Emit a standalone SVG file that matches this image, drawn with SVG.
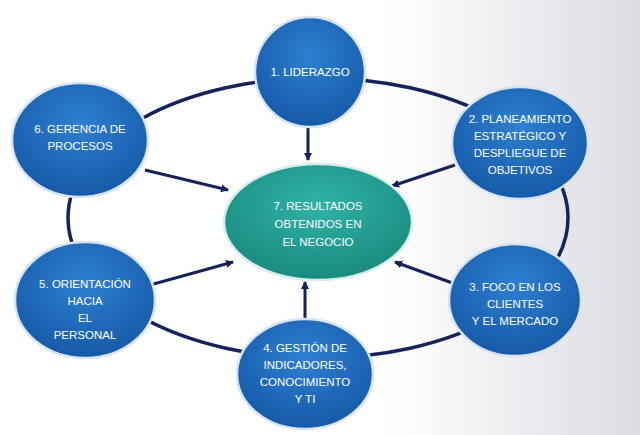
<svg xmlns="http://www.w3.org/2000/svg" width="640" height="435" viewBox="0 0 640 435">
<defs>
<linearGradient id="bg" x1="0" y1="0" x2="1" y2="0"><stop offset="0.6" stop-color="#ffffff"/><stop offset="1" stop-color="#dcdde2"/></linearGradient>
<radialGradient id="blue" cx="0.5" cy="0.35" r="0.65"><stop offset="0" stop-color="#2f7fd0"/><stop offset="1" stop-color="#155aa8"/></radialGradient>
<radialGradient id="teal" cx="0.5" cy="0.35" r="0.65"><stop offset="0" stop-color="#2fb3a6"/><stop offset="1" stop-color="#1a8a80"/></radialGradient>
<marker id="ah" markerWidth="8" markerHeight="8" refX="7" refY="4" orient="auto" markerUnits="userSpaceOnUse"><path d="M0,0 L8,4 L0,8 Z" fill="#15235a"/></marker>
</defs>
<style>
.n{fill:url(#blue);stroke:#d8e4f2;stroke-width:2.5}
.t{fill:#fff;font-family:"Liberation Sans",Arial,sans-serif;font-size:11.5px;text-anchor:middle}
.c{stroke:#15235a;stroke-width:3;fill:none}
</style>
<rect width="640" height="435" fill="url(#bg)"/>
<ellipse cx="318" cy="218" rx="250" ry="140" fill="none" stroke="#15235a" stroke-width="3.5"/>
<g id="connectors">
<line class="c" x1="308" y1="128" x2="308" y2="160" marker-end="url(#ah)"/>
<line class="c" x1="145" y1="170" x2="228" y2="190" marker-end="url(#ah)"/>
<line class="c" x1="455" y1="165" x2="392" y2="186" marker-end="url(#ah)"/>
<line class="c" x1="150" y1="285" x2="233" y2="262" marker-end="url(#ah)"/>
<line class="c" x1="455" y1="284" x2="395" y2="262" marker-end="url(#ah)"/>
<line class="c" x1="305" y1="320" x2="305" y2="282" marker-end="url(#ah)"/>
</g>
<g id="n7"><ellipse cx="318" cy="222" rx="94" ry="58" fill="url(#teal)" stroke="#d8ecea" stroke-width="2.5"/>
<text class="t" x="318" y="210">7.  RESULTADOS</text><text class="t" x="318" y="228">OBTENIDOS EN</text><text class="t" x="318" y="246">EL NEGOCIO</text></g>
<g id="n1"><ellipse class="n" cx="310" cy="72" rx="55" ry="55"/><text class="t" x="310" y="76">1. LIDERAZGO</text></g>
<g id="n2"><ellipse class="n" cx="520" cy="143" rx="68" ry="56"/>
<text class="t" x="520" y="123">2. PLANEAMIENTO</text><text class="t" x="520" y="140">ESTRATÉGICO Y</text><text class="t" x="520" y="157">DESPLIEGUE DE</text><text class="t" x="520" y="174">OBJETIVOS</text></g>
<g id="n3"><ellipse class="n" cx="515" cy="300" rx="66" ry="56"/>
<text class="t" x="515" y="291">3. FOCO EN LOS</text><text class="t" x="515" y="308">CLIENTES</text><text class="t" x="515" y="325">Y EL MERCADO</text></g>
<g id="n4"><ellipse class="n" cx="305" cy="374" rx="68" ry="55"/>
<text class="t" x="305" y="352">4. GESTIÓN DE</text><text class="t" x="305" y="369">INDICADORES,</text><text class="t" x="305" y="386">CONOCIMIENTO</text><text class="t" x="305" y="403">Y TI</text></g>
<g id="n5"><ellipse class="n" cx="85" cy="300" rx="70" ry="58"/>
<text class="t" x="85" y="288">5. ORIENTACIÓN</text><text class="t" x="85" y="305">HACIA</text><text class="t" x="85" y="322">EL</text><text class="t" x="85" y="339">PERSONAL</text></g>
<g id="n6"><ellipse class="n" cx="80" cy="140" rx="68" ry="57"/>
<text class="t" x="80" y="133">6. GERENCIA DE</text><text class="t" x="80" y="150">PROCESOS</text></g>
</svg>
